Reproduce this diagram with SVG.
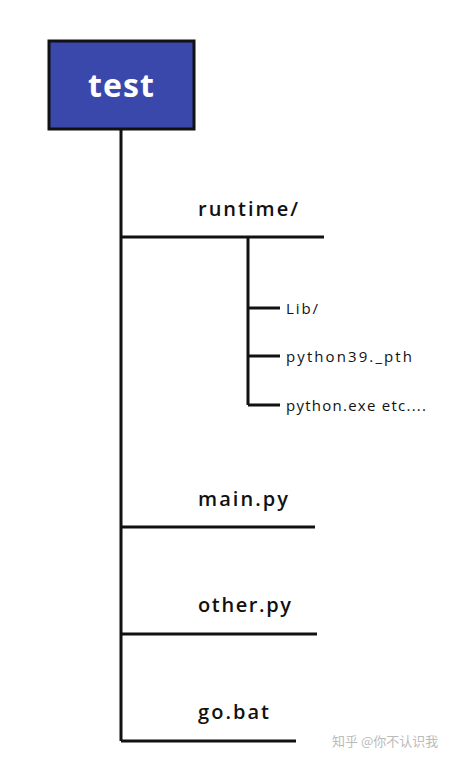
<svg xmlns="http://www.w3.org/2000/svg" width="452" height="759" viewBox="0 0 452 759">
<style>
.ln{stroke:#111;stroke-width:3;fill:none}
.big{font-family:"Open Sans","Liberation Sans",sans-serif;font-weight:600;font-size:20px;fill:#111}
.sm{font-family:"Open Sans","Liberation Sans",sans-serif;font-size:15px;fill:#111}
</style>
<rect width="452" height="759" fill="#fff"/>
<g id="connectors">
<path class="ln" d="M121 130V741M121 237H324M121 527H315M121 634H317M121 741H296"/>
<path class="ln" d="M248 237V405M248 308H280M248 356H280M248 405H280"/>
</g>
<g id="test"><rect x="49" y="41" width="145" height="88" fill="#3b48ab" stroke="#111" stroke-width="3"/><text x="88" y="97" textLength="66" lengthAdjust="spacing" font-family="'Open Sans','Liberation Sans',sans-serif" font-weight="700" font-size="32" fill="#fff">test</text></g>
<g id="runtime"><text class="big" x="198" y="216" textLength="100" lengthAdjust="spacing">runtime/</text></g>
<g id="lib"><text class="sm" x="286" y="314" textLength="32" lengthAdjust="spacing">Lib/</text></g>
<g id="pth"><text class="sm" x="286" y="362" textLength="126" lengthAdjust="spacing">python39._pth</text></g>
<g id="exe"><text class="sm" x="286" y="411" textLength="140" lengthAdjust="spacing">python.exe etc....</text></g>
<g id="main"><text class="big" x="198" y="506" textLength="90" lengthAdjust="spacing">main.py</text></g>
<g id="other"><text class="big" x="198" y="612" textLength="93" lengthAdjust="spacing">other.py</text></g>
<g id="go"><text class="big" x="198" y="719" textLength="71" lengthAdjust="spacing">go.bat</text></g>
<text x="332" y="746" font-family="'Noto Sans CJK SC',sans-serif" font-size="13" fill="#bbb">知乎 @你不认识我</text>
</svg>
